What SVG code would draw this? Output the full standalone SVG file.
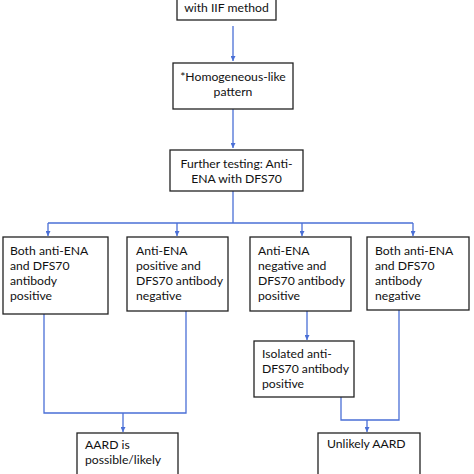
<svg xmlns="http://www.w3.org/2000/svg" width="474" height="474" viewBox="0 0 474 474">
<style>
.box{fill:#fff;stroke:#222;stroke-width:1.3}
.t{font-family:Lato,"Liberation Sans",Arial,sans-serif;font-size:12.2px;fill:#111}
.c{text-anchor:middle}
.ln{fill:none;stroke:#4a6fd6;stroke-width:1.3}
</style>
<defs>
<marker id="ah" viewBox="0 0 10 10" refX="10" refY="5" markerWidth="5" markerHeight="5" orient="auto" markerUnits="userSpaceOnUse">
<path d="M0,0 L10,5 L0,10 z" fill="#4a6fd6"/>
</marker>
</defs>
<rect width="474" height="474" fill="#fff"/>
<g id="connectors">
<line class="ln" x1="233" y1="26" x2="233" y2="61" marker-end="url(#ah)"/>
<line class="ln" x1="233" y1="109" x2="233" y2="148" marker-end="url(#ah)"/>
<line class="ln" x1="233" y1="191" x2="233" y2="223"/>
<line class="ln" x1="48" y1="223" x2="413" y2="223"/>
<line class="ln" x1="48" y1="223" x2="48" y2="236" marker-end="url(#ah)"/>
<line class="ln" x1="177" y1="223" x2="177" y2="236" marker-end="url(#ah)"/>
<line class="ln" x1="302" y1="223" x2="302" y2="236" marker-end="url(#ah)"/>
<line class="ln" x1="413" y1="223" x2="413" y2="236" marker-end="url(#ah)"/>
<line class="ln" x1="307" y1="311" x2="307" y2="340" marker-end="url(#ah)"/>
<polyline class="ln" points="44,314 44,413 186,413 186,311"/>
<line class="ln" x1="123" y1="413" x2="123" y2="432" marker-end="url(#ah)"/>
<polyline class="ln" points="341,397 341,420 399,420 399,310"/>
<line class="ln" x1="367" y1="420" x2="367" y2="432" marker-end="url(#ah)"/>
</g>
<g id="n0">
<rect class="box" x="177" y="-20" width="99" height="40"/>
<text class="t c" x="226.5" y="12">with IIF method</text>
</g>
<g id="n1">
<rect class="box" x="173" y="63" width="120" height="46"/>
<text class="t c" x="233" y="81">*Homogeneous-like</text>
<text class="t c" x="233" y="96">pattern</text>
</g>
<g id="n2">
<rect class="box" x="170" y="150" width="133" height="41"/>
<text class="t c" x="236.5" y="168">Further testing: Anti-</text>
<text class="t c" x="236.5" y="183">ENA with DFS70</text>
</g>
<g id="n3">
<rect class="box" x="3" y="237" width="105" height="77"/>
<text class="t" x="10" y="255">Both anti-ENA</text>
<text class="t" x="10" y="270">and DFS70</text>
<text class="t" x="10" y="285">antibody</text>
<text class="t" x="10" y="300">positive</text>
</g>
<g id="n4">
<rect class="box" x="127" y="237" width="101" height="74"/>
<text class="t" x="136" y="255">Anti-ENA</text>
<text class="t" x="136" y="270">positive and</text>
<text class="t" x="136" y="285">DFS70 antibody</text>
<text class="t" x="136" y="300">negative</text>
</g>
<g id="n5">
<rect class="box" x="250" y="237" width="101" height="74"/>
<text class="t" x="258" y="255">Anti-ENA</text>
<text class="t" x="258" y="270">negative and</text>
<text class="t" x="258" y="285">DFS70 antibody</text>
<text class="t" x="258" y="300">positive</text>
</g>
<g id="n6">
<rect class="box" x="367" y="237" width="102" height="73"/>
<text class="t" x="375" y="255">Both anti-ENA</text>
<text class="t" x="375" y="270">and DFS70</text>
<text class="t" x="375" y="285">antibody</text>
<text class="t" x="375" y="300">negative</text>
</g>
<g id="n7">
<rect class="box" x="254" y="341" width="100" height="56"/>
<text class="t" x="262" y="358">Isolated anti-</text>
<text class="t" x="262" y="373">DFS70 antibody</text>
<text class="t" x="262" y="388">positive</text>
</g>
<g id="n8">
<rect class="box" x="77" y="433" width="101" height="60"/>
<text class="t" x="85" y="449">AARD is</text>
<text class="t" x="85" y="464">possible/likely</text>
</g>
<g id="n9">
<rect class="box" x="318" y="433" width="102" height="60"/>
<text class="t" x="327" y="448">Unlikely AARD</text>
</g>
</svg>
